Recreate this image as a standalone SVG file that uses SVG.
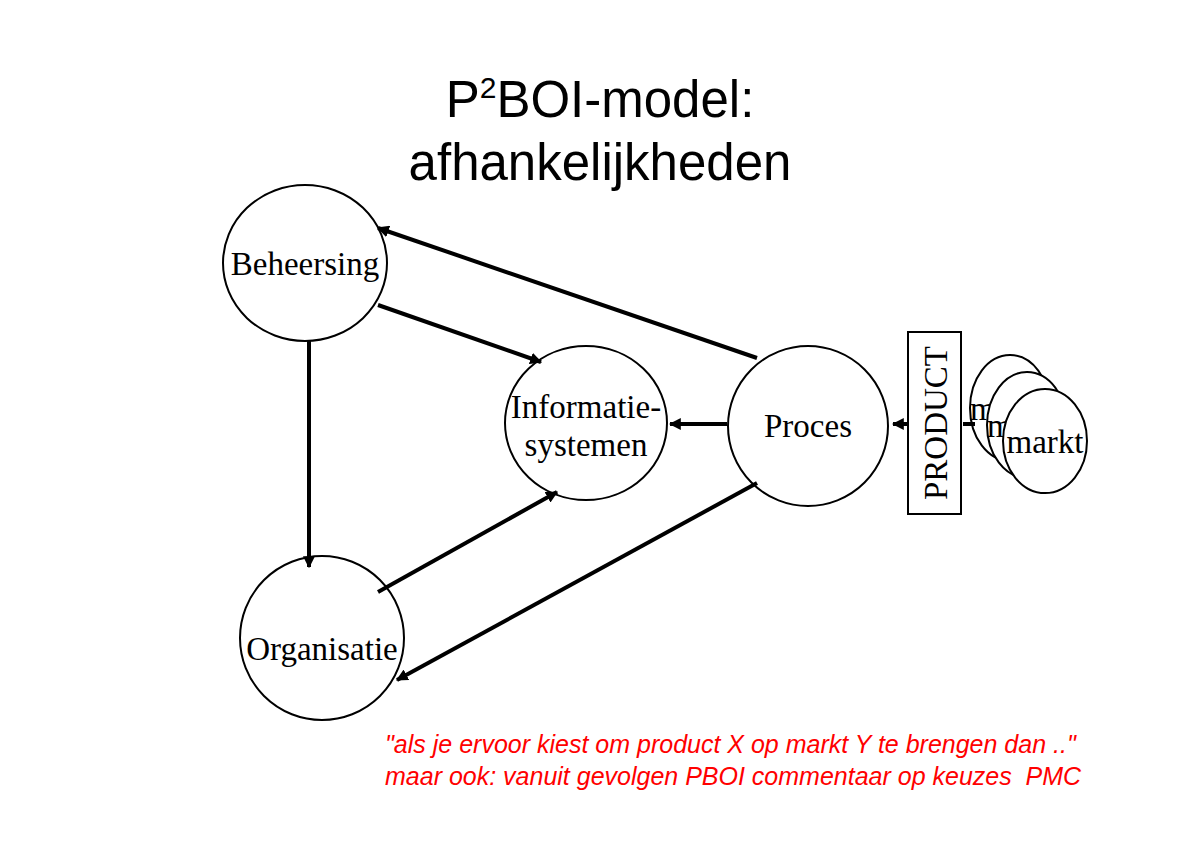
<svg xmlns="http://www.w3.org/2000/svg" width="1200" height="848" viewBox="0 0 1200 848">
<style>
.n{fill:#fff;stroke:#000;stroke-width:2}
.t{font-family:"Liberation Serif",serif;font-size:33px;fill:#000;text-anchor:middle}
.s{text-anchor:start}
.c{stroke:#000;stroke-width:4;fill:none;marker-end:url(#a)}
.h{font-family:"Liberation Sans",sans-serif;font-size:51px;text-anchor:middle}
.r{font-family:"Liberation Sans",sans-serif;font-size:25px;font-style:italic;fill:#f00}
</style>
<defs><marker id="a" viewBox="0 0 10 10" refX="9" refY="5" markerWidth="3" markerHeight="3" orient="auto"><path d="M0,0L10,5L0,10z"/></marker></defs>
<rect width="1200" height="848" fill="#fff"/>
<text class="h" x="600" y="117">P<tspan font-size="30" dy="-19">2</tspan><tspan dy="19">BOI-model:</tspan></text>
<text class="h" x="600" y="180">afhankelijkheden</text>
<g id="beheersing"><ellipse class="n" cx="305" cy="263" rx="82" ry="78"/><text class="t" x="305" y="275">Beheersing</text></g>
<g id="informatie"><ellipse class="n" cx="586" cy="423" rx="81" ry="77"/><text class="t" x="586" y="418">Informatie-</text><text class="t" x="586" y="456">systemen</text></g>
<g id="proces"><ellipse class="n" cx="808" cy="426" rx="80" ry="80"/><text class="t" x="808" y="437">Proces</text></g>
<g id="organisatie"><ellipse class="n" cx="322" cy="638" rx="82" ry="82"/><text class="t" x="322" y="660">Organisatie</text></g>
<g id="product"><rect class="n" x="908" y="332" width="53" height="182"/><text class="t" transform="translate(947,423) rotate(-90)" font-size="36">PRODUCT</text></g>
<g id="markt">
<ellipse class="n" cx="1010" cy="408" rx="40" ry="53"/><text class="t s" x="970" y="420">m</text>
<ellipse class="n" cx="1027" cy="425" rx="40" ry="53"/><text class="t s" x="987" y="437">m</text>
<ellipse class="n" cx="1045" cy="441" rx="42" ry="52"/><text class="t" x="1045" y="453">markt</text>
</g>
<g id="connectors">
<path class="c" d="M757,358L378,228"/>
<path class="c" d="M378,305L541,362"/>
<path class="c" d="M309,341L309,567"/>
<path class="c" d="M378,592L557,492"/>
<path class="c" d="M757,483L397,680"/>
<path class="c" d="M727,424L670,424"/>
<path class="c" d="M908,424L893,424"/>
<path d="M963,424L975,424" stroke="#000" stroke-width="4"/>
</g>
<text class="r" x="385" y="753" xml:space="preserve">"als je ervoor kiest om product X op markt Y te brengen dan .."</text>
<text class="r" x="385" y="785" xml:space="preserve">maar ook: vanuit gevolgen PBOI commentaar op keuzes  PMC</text>
</svg>
